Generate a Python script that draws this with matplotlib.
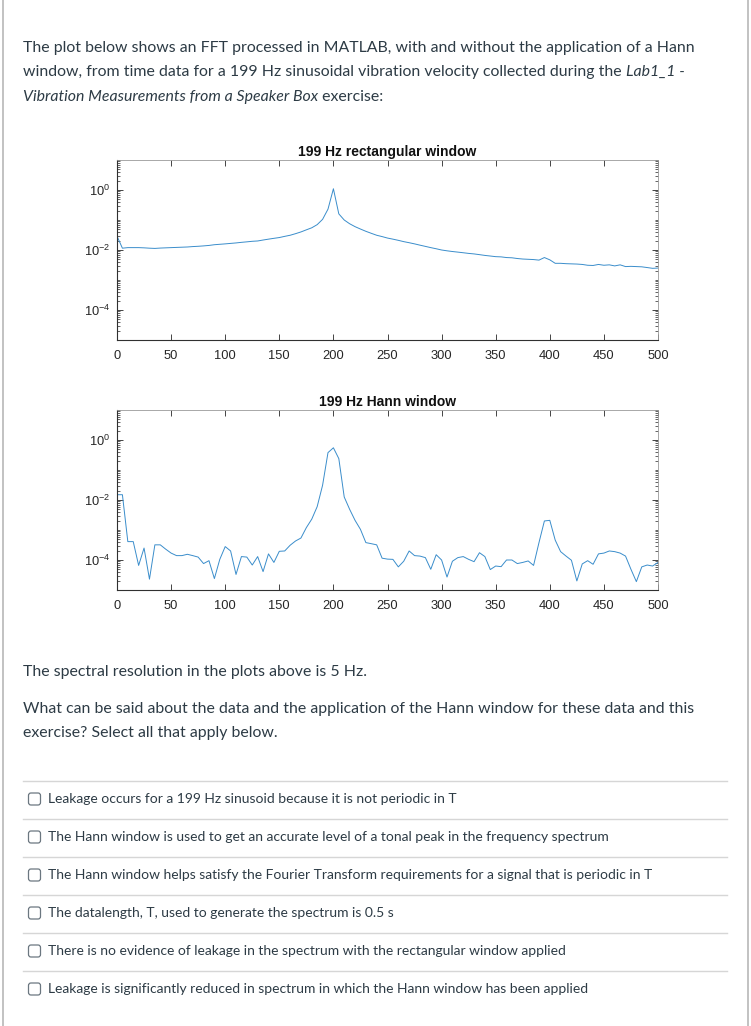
import numpy as np
import matplotlib
matplotlib.use("Agg")
from matplotlib import pyplot as plt
from matplotlib.ticker import LogLocator, NullFormatter, FixedLocator
from matplotlib.patches import FancyBboxPatch

# Frequency bins (5 Hz resolution)
freq = list(range(0, 505, 5))

# 199 Hz, rectangular window
rect_amp = [2.9e-2, 1.15e-2, 1.2e-2, 1.2e-2, 1.2e-2, 1.18e-2, 1.15e-2, 1.13e-2, 1.16e-2, 1.18e-2,
            1.2e-2, 1.22e-2, 1.24e-2, 1.26e-2, 1.3e-2, 1.33e-2, 1.37e-2, 1.42e-2, 1.5e-2, 1.55e-2,
            1.6e-2, 1.66e-2, 1.72e-2, 1.8e-2, 1.87e-2, 1.95e-2, 2.0e-2, 2.15e-2, 2.3e-2, 2.45e-2,
            2.6e-2, 2.85e-2, 3.1e-2, 3.5e-2, 4.0e-2, 4.7e-2, 5.5e-2, 7.0e-2, 1.05e-1, 2.3e-1,
            1.1, 1.6e-1, 1.0e-1, 7.5e-2, 6.0e-2, 5.0e-2, 4.2e-2, 3.6e-2, 3.1e-2, 2.8e-2,
            2.5e-2, 2.3e-2, 2.1e-2, 1.9e-2, 1.75e-2, 1.6e-2, 1.45e-2, 1.32e-2, 1.2e-2, 1.1e-2,
            1.0e-2, 9.4e-3, 8.9e-3, 8.5e-3, 8.1e-3, 7.7e-3, 7.4e-3, 7.0e-3, 6.6e-3, 6.3e-3,
            6.0e-3, 5.9e-3, 5.6e-3, 5.5e-3, 5.2e-3, 5.0e-3, 4.9e-3, 4.8e-3, 4.6e-3, 5.6e-3,
            4.7e-3, 3.6e-3, 3.6e-3, 3.5e-3, 3.45e-3, 3.4e-3, 3.3e-3, 3.1e-3, 3.05e-3, 3.3e-3,
            3.1e-3, 3.2e-3, 2.95e-3, 3.2e-3, 2.8e-3, 2.85e-3, 2.8e-3, 2.75e-3, 2.6e-3, 2.45e-3,
            2.5e-3]

# 199 Hz, Hann window
hann_amp = [1.5e-2, 1.5e-2, 4.1e-4, 4.1e-4, 6.6e-5, 2.5e-4, 2.3e-5, 3.2e-4, 3.2e-4, 2.3e-4,
            1.7e-4, 1.4e-4, 1.4e-4, 1.55e-4, 1.4e-4, 1.25e-4, 7.6e-5, 9.5e-5, 2.4e-5, 1.05e-4,
            2.8e-4, 2.0e-4, 3.3e-5, 1.3e-4, 1.25e-4, 6.8e-5, 1.3e-4, 4.1e-5, 1.6e-4, 8.3e-5,
            1.95e-4, 2.0e-4, 3.1e-4, 4.3e-4, 5.4e-4, 1.2e-3, 2.3e-3, 6.0e-3, 3.1e-2, 3.8e-1,
            5.5e-1, 2.4e-1, 1.26e-2, 4.9e-3, 2.1e-3, 1.05e-3, 3.8e-4, 3.5e-4, 3.2e-4, 1.15e-4,
            1.07e-4, 1.05e-4, 5.9e-5, 9.1e-5, 2.0e-4, 1.4e-4, 1.35e-4, 1.2e-4, 4.9e-5, 1.5e-4,
            1.0e-4, 2.7e-5, 9.1e-5, 1.2e-4, 1.3e-4, 1.05e-4, 8.8e-5, 1.75e-4, 1.3e-4, 4.8e-5,
            6.3e-5, 6.0e-5, 1.0e-4, 1.0e-4, 7.6e-5, 8.3e-5, 9.3e-5, 6.6e-5, 3.8e-4, 2.0e-3,
            2.1e-3, 4.6e-4, 1.9e-4, 1.35e-4, 9.8e-5, 2.0e-5, 7.4e-5, 9.5e-5, 7.2e-5, 1.6e-4,
            1.7e-4, 2.0e-4, 1.9e-4, 1.7e-4, 1.35e-4, 4.9e-5, 1.9e-5, 5.9e-5, 6.8e-5, 6.3e-5,
            8.3e-5]

titles = ["199 Hz rectangular window", "199 Hz Hann window"]

intro_lines = [
    [("The plot below shows an FFT processed in MATLAB, with and without the application of a Hann", "normal")],
    [("window, from time data for a 199 Hz sinusoidal vibration velocity collected during the ", "normal"),
     ("Lab1_1 -", "italic")],
    [("Vibration Measurements from a Speaker Box", "italic"), (" exercise:", "normal")],
]
question_lines = [
    "The spectral resolution in the plots above is 5 Hz.",
    "What can be said about the data and the application of the Hann window for these data and this",
    "exercise? Select all that apply below.",
]
options = [
    "Leakage occurs for a 199 Hz sinusoid because it is not periodic in T",
    "The Hann window is used to get an accurate level of a tonal peak in the frequency spectrum",
    "The Hann window helps satisfy the Fourier Transform requirements for a signal that is periodic in T",
    "The datalength, T, used to generate the spectrum is 0.5 s",
    "There is no evidence of leakage in the spectrum with the rectangular window applied",
    "Leakage is significantly reduced in spectrum in which the Hann window has been applied",
]

plt.rcParams["mathtext.fontset"] = "custom"
plt.rcParams["mathtext.rm"] = "Liberation Sans"
plt.rcParams["mathtext.it"] = "Liberation Sans:italic"

W, H = 751, 1026
fig = plt.figure(figsize=(W / 100, H / 100), dpi=100)
fig.patch.set_facecolor("white")

# page layer in pixel coordinates
bg = fig.add_axes([0, 0, 1, 1])
bg.set_xlim(0, W)
bg.set_ylim(H, 0)
bg.axis("off")

txt_col = "#2d3b45"
page_font = "Lato"

bg.plot([2.5, 2.5], [0, H], color="#b8b8b8", lw=1.2)
bg.plot([747.5, 747.5], [0, H], color="#b8b8b8", lw=1.2)

fig.canvas.draw()
renderer = fig.canvas.get_renderer()


def write_line(parts, x, y, size):
    for s, style in parts:
        t = bg.text(x, y, s, fontsize=size, family=page_font, style=style,
                    color=txt_col, va="center", ha="left")
        x = t.get_window_extent(renderer).x1


intro_y = [48, 72, 97]
for parts, y in zip(intro_lines, intro_y):
    write_line(parts, 23, y, 11.45)

question_y = [672, 709, 733]
for s, y in zip(question_lines, question_y):
    write_line([(s, "normal")], 23, y, 11.45)

sep_y = [781, 819, 857, 895, 933, 971]
for s, y in zip(options, sep_y):
    bg.plot([23, 727], [y, y], color="#d6d6d6", lw=1.0)
    yc = y + 18
    bg.add_patch(FancyBboxPatch((28.5, yc - 6), 12, 12, boxstyle="round,pad=0,rounding_size=2.5",
                                fc="white", ec="#6b7780", lw=0.9))
    bg.text(48, yc, s, fontsize=10.0, family=page_font, color=txt_col, va="center", ha="left")

# MATLAB style spectra
line_col = "#3a8dcb"
ax_left, ax_w = 117 / W, 541 / W
ax_h = 180 / H
for k, (amp, ttl, ytop) in enumerate(zip([rect_amp, hann_amp], titles, [160, 410])):
    ax = fig.add_axes([ax_left, 1 - (ytop + 180) / H, ax_w, ax_h])
    ax.semilogy(freq, amp, color=line_col, lw=0.7)
    ax.set_xlim(0, 500)
    ax.set_ylim(1e-5, 1e1)
    ax.set_xticks(range(0, 501, 50))
    ax.yaxis.set_major_locator(FixedLocator([1e-4, 1e-2, 1e0]))
    ax.yaxis.set_minor_locator(LogLocator(base=10, subs=np.arange(1, 10), numticks=20))
    ax.yaxis.set_minor_formatter(NullFormatter())
    ax.tick_params(which="both", direction="in", top=True, right=True, colors="#262626",
                   labelsize=9.3, pad=5)
    ax.tick_params(axis="x", which="major", pad=7)
    ax.tick_params(which="major", length=4, width=0.6)
    ax.tick_params(which="minor", length=2, width=0.5)
    for lab in ax.get_xticklabels() + ax.get_yticklabels():
        lab.set_family("Liberation Sans")
    for side in ["left", "bottom"]:
        ax.spines[side].set_color("#303030")
        ax.spines[side].set_linewidth(0.8)
    for side in ["top", "right"]:
        ax.spines[side].set_color("#9a9a9a")
        ax.spines[side].set_linewidth(0.6)
    ax.set_title(ttl, fontsize=10, fontweight="bold", family="Liberation Sans",
                 color="#111111", pad=3)

fig.savefig("out.png", dpi=100)
